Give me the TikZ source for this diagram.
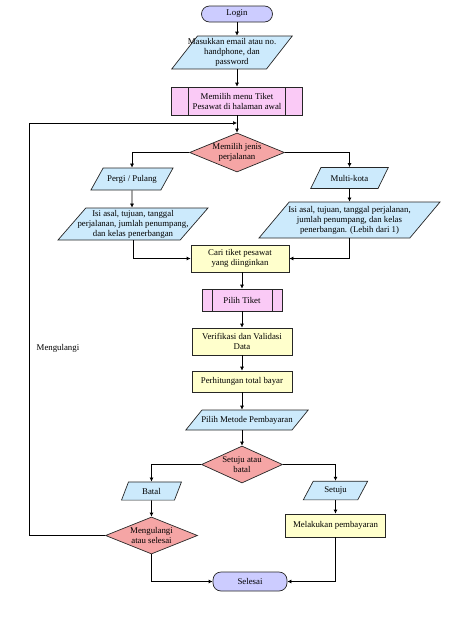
\documentclass[tikz,border=0pt]{standalone}
\usepackage{fontspec}
\setmainfont{Liberation Serif}
\usetikzlibrary{shapes.geometric}
\usetikzlibrary{arrows.meta}
\tikzset{>={Latex[width=4pt,length=4pt]}}

\definecolor{termfill}{RGB}{204,204,255}
\definecolor{iofill}{RGB}{204,234,252}
\definecolor{predfill}{RGB}{250,202,246}
\definecolor{decfill}{RGB}{245,165,165}
\definecolor{procfill}{RGB}{255,255,204}

\tikzset{
  base/.style={draw=black!85, line width=0.7pt, align=center,
    font=\fontsize{8.8}{10}\selectfont},
  terminal/.style={base, rectangle, rounded corners=8pt, fill=termfill, inner sep=0pt},
  proses/.style={base, rectangle, fill=procfill, inner sep=0pt},
  predef/.style={base, rectangle, fill=predfill, inner sep=0pt,
    path picture={
      \draw[line width=0.7pt] ([xshift=#1]path picture bounding box.north west)
        -- ([xshift=#1]path picture bounding box.south west);
      \draw[line width=0.7pt] ([xshift=-#1]path picture bounding box.north east)
        -- ([xshift=-#1]path picture bounding box.south east);}},
  io/.style={base, trapezium, trapezium left angle=#1, trapezium right angle={180-#1},
    fill=iofill},
  decide/.style={base, diamond, aspect=2.4, fill=decfill, inner sep=0pt},
}

\begin{document}
\begin{tikzpicture}[x=1pt, y=-1pt, line width=0.7pt]

  \useasboundingbox (0,0) rectangle (474,632);

  %% top part
  \node[terminal, minimum width=71pt, minimum height=16pt] (login) at (237,14) {Login};
  \node[io=52, inner ysep=2.5pt, inner xsep=-9.75pt] (masuk) at (232,52.5)
    {Masukkan email atau no.\\ handphone, dan\\ password};
  \node[predef=17pt, minimum width=131pt, minimum height=28pt] (menu) at (237,101)
    {Memilih menu Tiket\\ Pesawat di halaman awal};
  \node[decide, minimum width=95pt, minimum height=39pt] (jenis) at (237,152.5)
    {Memilih jenis\\ perjalanan};

  %% two branches
  \node[io=61, inner ysep=7pt, inner xsep=4pt] (pergi) at (132,179) {Pergi / Pulang};
  \node[io=64, inner ysep=7.4pt, inner xsep=9.7pt] (multi) at (349.5,178) {Multi-kota};
  \node[io=49, inner ysep=2pt, inner xsep=-8.3pt] (isiL) at (133,224)
    {Isi asal, tujuan, tanggal\\ perjalanan, jumlah penumpang,\\ dan kelas penerbangan};
  \node[io=50, inner ysep=4pt, inner xsep=-0.9pt] (isiR) at (349.5,220)
    {Isi asal, tujuan, tanggal perjalanan,\\ jumlah penumpang, dan kelas\\
     penerbangan. (Lebih dari 1)};

  %% middle column
  \node[proses, minimum width=98pt, minimum height=27pt] (cari) at (240,258.5)
    {Cari tiket pesawat\\ yang diinginkan};
  \node[predef=10pt, minimum width=80pt, minimum height=22pt] (tiket) at (242,300) {Pilih Tiket};
  \node[proses, minimum width=100pt, minimum height=27pt] (verif) at (242,341.5)
    {Verifikasi dan Validasi\\ Data};
  \node[proses, minimum width=100pt, minimum height=21pt] (hitung) at (242,381.5)
    {Perhitungan total bayar};
  \node[io=51, inner ysep=6pt, inner xsep=-0.7pt] (metode) at (247,420)
    {Pilih Metode Pembayaran};
  \node[decide, minimum width=81pt, minimum height=37pt] (sb) at (242,464.5)
    {Setuju atau\\ batal};

  %% bottom part
  \node[io=69, inner ysep=6pt, inner xsep=13.7pt] (batal) at (151.5,491) {Batal};
  \node[io=62, inner ysep=5.5pt, inner xsep=11pt] (setuju) at (335.5,490.5) {Setuju};
  \node[decide, minimum width=92pt, minimum height=37pt] (ulang) at (151.5,535.5)
    {Mengulangi\\ atau selesai};
  \node[proses, minimum width=100pt, minimum height=23pt] (bayar) at (335.5,525.5)
    {Melakukan pembayaran};
  \node[terminal, minimum width=74pt, minimum height=19pt] (selesai) at (250,581.5) {Selesai};

  \node[anchor=west, font=\fontsize{8.8}{10}\selectfont] (lbl) at (33,348) {Mengulangi};
  \coordinate (kiri) at (29,123);
  \coordinate (balik) at (237,123);

  %% connectors
  \draw[->] (login) -- (login |- masuk.north);
  \draw[->] (menu |- masuk.south) -- (menu);
  \draw[->] (menu) -- (jenis);
  \draw[->] (jenis.west) -| (pergi.north);
  \draw[->] (jenis.east) -| (multi.north);
  \draw[->] (pergi) -- (pergi |- isiL.north);
  \draw[->] (multi) -- (isiR);
  \draw[->] (isiL.south) |- (cari.west);
  \draw[->] (isiR.south) |- (cari.east);
  \draw[->] (tiket |- cari.south) -- (tiket);
  \draw[->] (tiket) -- (verif);
  \draw[->] (verif) -- (hitung);
  \draw[->] (hitung) -- (hitung |- metode.north);
  \draw[->] (sb |- metode.south) -- (sb);
  \draw[->] (sb.west) -| (batal.north);
  \draw[->] (sb.east) -| (setuju.north);
  \draw[->] (batal) -- (ulang);
  \draw[->] (setuju) -- (bayar);
  \draw[->] (ulang.south) |- (selesai.west);
  \draw[->] (bayar.south) |- (selesai.east);
  \draw[->] (ulang.west) -| (kiri) -- (balik);

\end{tikzpicture}
\end{document}
